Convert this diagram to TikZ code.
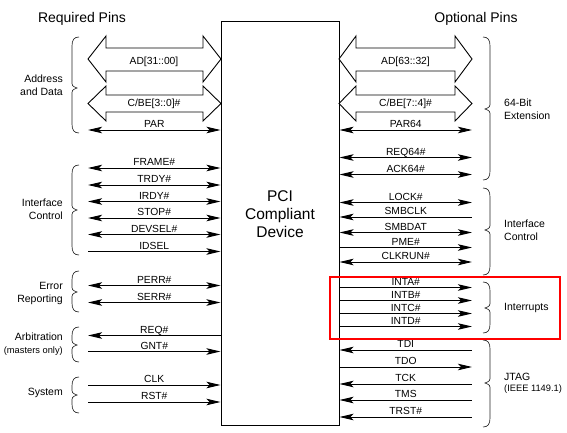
\documentclass[tikz,border=0pt]{standalone}
\usepackage{fontspec}
\setmainfont{Liberation Sans}
\usetikzlibrary{arrows.meta}
\newcommand\leftbrc[3]{%
  \draw[brc] (79,#1) .. controls (74,#1) and (72,#1+3) .. (72,#1+9) -- (72,#3-7) .. controls (72,#3-2) .. (77,#3) .. controls (72,#3+2) .. (72,#3+7) -- (72,#2-9) .. controls (72,#2-3) and (74,#2) .. (79,#2);}
\newcommand\rightbrc[3]{%
  \draw[brc] (483,#1) .. controls (488,#1) and (490,#1+3) .. (490,#1+9) -- (490,#3-7) .. controls (490,#3-2) .. (485,#3) .. controls (490,#3+2) .. (490,#3+7) -- (490,#2-9) .. controls (490,#2-3) and (488,#2) .. (483,#2);}
\begin{document}
\begin{tikzpicture}[x=1pt,y=-1pt,
  >={Stealth[length=14pt,width=6.5pt,inset=3pt]},
  wire/.style={line width=0.95pt},
  bus/.style={line width=0.9pt},
  brc/.style={line width=0.65pt, black!85},
  sig/.style={font=\fontsize{10.3}{12}\selectfont, anchor=base, yshift=2.5pt, inner sep=0pt},
  buslbl/.style={font=\fontsize{10.3}{12}\selectfont, inner sep=0pt},
  grp/.style={font=\fontsize{10.5}{13}\selectfont, inner sep=0pt},
  grpsmall/.style={font=\fontsize{9.3}{12}\selectfont, inner sep=0pt},
  hdr/.style={font=\fontsize{14}{16}\selectfont, inner sep=0pt}]
\fill[white] (0,0) rectangle (567,433);
\useasboundingbox (0,0) rectangle (567,433);

% device
\node[draw, line width=1pt, minimum width=118pt, minimum height=403pt, inner sep=0pt] (dev) at (280,223.5) {};
\node[font=\fontsize{15.5}{18}\selectfont, align=center, inner sep=0pt] (devtxt) at (280,214) {PCI\\Compliant\\Device};

% headers
\node[hdr] (hreq) at (82,19) {Required Pins};
\node[hdr] (hopt) at (476,19) {Optional Pins};

% ---------- left buses ----------
\draw[bus] (88,59) -- (106,36) -- (106,48) -- (203,48) -- (203,36) -- (221,59) -- (203,82) -- (203,71) -- (106,71) -- (106,82) -- cycle;
\node[buslbl] (adl) at (154,61.5) {AD[31::00]};
\draw[bus] (88,103.5) -- (106,86) -- (106,95) -- (203,95) -- (203,86) -- (221,103.5) -- (203,121) -- (203,112) -- (106,112) -- (106,121) -- cycle;
\node[buslbl] (cbel) at (154,104) {C/BE[3::0]\#};

% ---------- right buses ----------
\draw[bus] (339,59) -- (356,36) -- (356,48) -- (455,48) -- (455,36) -- (472,59) -- (455,82) -- (455,71) -- (356,71) -- (356,82) -- cycle;
\node[buslbl] (adr) at (405.5,61.5) {AD[63::32]};
\draw[bus] (339,103.5) -- (356,86) -- (356,95) -- (455,95) -- (455,86) -- (472,103.5) -- (455,121) -- (455,112) -- (356,112) -- (356,121) -- cycle;
\node[buslbl] (cber) at (405.5,104) {C/BE[7::4]\#};

% ---------- left single wires ----------
\coordinate (lPAR) at (88,130);
\coordinate (lFRAME) at (88,168);
\coordinate (lTRDY) at (88,185);
\coordinate (lIRDY) at (88,201.5);
\coordinate (lSTOP) at (88,218);
\coordinate (lDEVSEL) at (88,234.5);
\coordinate (lIDSEL) at (88,251.5);
\coordinate (lPERR) at (88,285.5);
\coordinate (lSERR) at (88,302.5);
\coordinate (lREQ) at (88,335.5);
\coordinate (lGNT) at (88,351.5);
\coordinate (lCLK) at (88,385);
\coordinate (lRST) at (88,402);

\draw[wire,<->] (lPAR) -- (lPAR -| dev.west) node[sig, midway] {PAR};
\draw[wire,<->] (lFRAME) -- (lFRAME -| dev.west) node[sig, midway] {FRAME\#};
\draw[wire,<->] (lTRDY) -- (lTRDY -| dev.west) node[sig, midway] {TRDY\#};
\draw[wire,<->] (lIRDY) -- (lIRDY -| dev.west) node[sig, midway] {IRDY\#};
\draw[wire,<->] (lSTOP) -- (lSTOP -| dev.west) node[sig, midway] {STOP\#};
\draw[wire,<->] (lDEVSEL) -- (lDEVSEL -| dev.west) node[sig, midway] {DEVSEL\#};
\draw[wire,->] (lIDSEL) -- (lIDSEL -| dev.west) node[sig, midway] {IDSEL};
\draw[wire,<->] (lPERR) -- (lPERR -| dev.west) node[sig, midway] {PERR\#};
\draw[wire,<->] (lSERR) -- (lSERR -| dev.west) node[sig, midway] {SERR\#};
\draw[wire,<-] (lREQ) -- (lREQ -| dev.west) node[sig, midway] {REQ\#};
\draw[wire,->] (lGNT) -- (lGNT -| dev.west) node[sig, midway] {GNT\#};
\draw[wire,->] (lCLK) -- (lCLK -| dev.west) node[sig, midway] {CLK};
\draw[wire,->] (lRST) -- (lRST -| dev.west) node[sig, midway] {RST\#};

% ---------- right single wires ----------
\coordinate (rPAR) at (472,130);
\coordinate (rREQ) at (472,157.5);
\coordinate (rACK) at (472,174.5);
\coordinate (rLOCK) at (472,202.5);
\coordinate (rSMBCLK) at (472,217);
\coordinate (rSMBDAT) at (472,232.5);
\coordinate (rPME) at (472,247.5);
\coordinate (rCLKRUN) at (472,262);
\coordinate (rINTA) at (472,287.5);
\coordinate (rINTB) at (472,300.5);
\coordinate (rINTC) at (472,313.5);
\coordinate (rINTD) at (472,326.5);
\coordinate (rTDI) at (472,350);
\coordinate (rTDO) at (472,367);
\coordinate (rTCK) at (472,384);
\coordinate (rTMS) at (472,400);
\coordinate (rTRST) at (472,417);

\draw[wire,<->] (rPAR -| dev.east) -- (rPAR) node[sig, midway] {PAR64};
\draw[wire,<->] (rREQ -| dev.east) -- (rREQ) node[sig, midway] {REQ64\#};
\draw[wire,<->] (rACK -| dev.east) -- (rACK) node[sig, midway] {ACK64\#};
\draw[wire,<->] (rLOCK -| dev.east) -- (rLOCK) node[sig, midway] {LOCK\#};
\draw[wire,<-] (rSMBCLK -| dev.east) -- (rSMBCLK) node[sig, midway] {SMBCLK};
\draw[wire,<->] (rSMBDAT -| dev.east) -- (rSMBDAT) node[sig, midway] {SMBDAT};
\draw[wire,->] (rPME -| dev.east) -- (rPME) node[sig, midway] {PME\#};
\draw[wire,<->] (rCLKRUN -| dev.east) -- (rCLKRUN) node[sig, midway] {CLKRUN\#};
\draw[wire,->] (rINTA -| dev.east) -- (rINTA) node[sig, midway] {INTA\#};
\draw[wire,->] (rINTB -| dev.east) -- (rINTB) node[sig, midway] {INTB\#};
\draw[wire,->] (rINTC -| dev.east) -- (rINTC) node[sig, midway] {INTC\#};
\draw[wire,->] (rINTD -| dev.east) -- (rINTD) node[sig, midway] {INTD\#};
\draw[wire,<-] (rTDI -| dev.east) -- (rTDI) node[sig, midway] {TDI};
\draw[wire,->] (rTDO -| dev.east) -- (rTDO) node[sig, midway] {TDO};
\draw[wire,<-] (rTCK -| dev.east) -- (rTCK) node[sig, midway] {TCK};
\draw[wire,<-] (rTMS -| dev.east) -- (rTMS) node[sig, midway] {TMS};
\draw[wire,<-] (rTRST -| dev.east) -- (rTRST) node[sig, midway] {TRST\#};

% ---------- braces ----------
\leftbrc{37}{133}{88}
\leftbrc{165}{255}{210}
\leftbrc{271}{312}{292}
\leftbrc{327}{362}{345}
\leftbrc{377}{413}{395}
\rightbrc{37}{180}{109}
\rightbrc{188}{275}{230}
\rightbrc{282}{333}{308}
\rightbrc{340}{427}{383}

% ---------- group labels ----------
\node[grp, anchor=east, align=right] (gAD) at (63,85) {Address\\and Data};
\node[grp, anchor=east, align=right] (gIC) at (63,209.5) {Interface\\Control};
\node[grp, anchor=east, align=right] (gER) at (63,293.5) {Error\\Reporting};
\node[grp, anchor=east] (gARB) at (63,336.5) {Arbitration};
\node[grpsmall, anchor=east] (gARB2) at (63,351.5) {(masters only)};
\node[grp, anchor=east] (gSYS) at (63,393) {System};
\node[grp, anchor=west, align=left] (g64) at (504,109) {64-Bit\\Extension};
\node[grp, anchor=west, align=left] (gIC2) at (504,230.5) {Interface\\Control};
\node[grp, anchor=west] (gINT) at (504,308) {Interrupts};
\node[grp, anchor=west] (gJT) at (504,376.5) {JTAG};
\node[grpsmall, anchor=west] (gJT2) at (504,389.5) {(IEEE 1149.1)};

% highlight
\node[draw=red, line width=2pt, minimum width=230pt, minimum height=62pt, inner sep=0pt] (hl) at (445,308) {};
\end{tikzpicture}
\end{document}
